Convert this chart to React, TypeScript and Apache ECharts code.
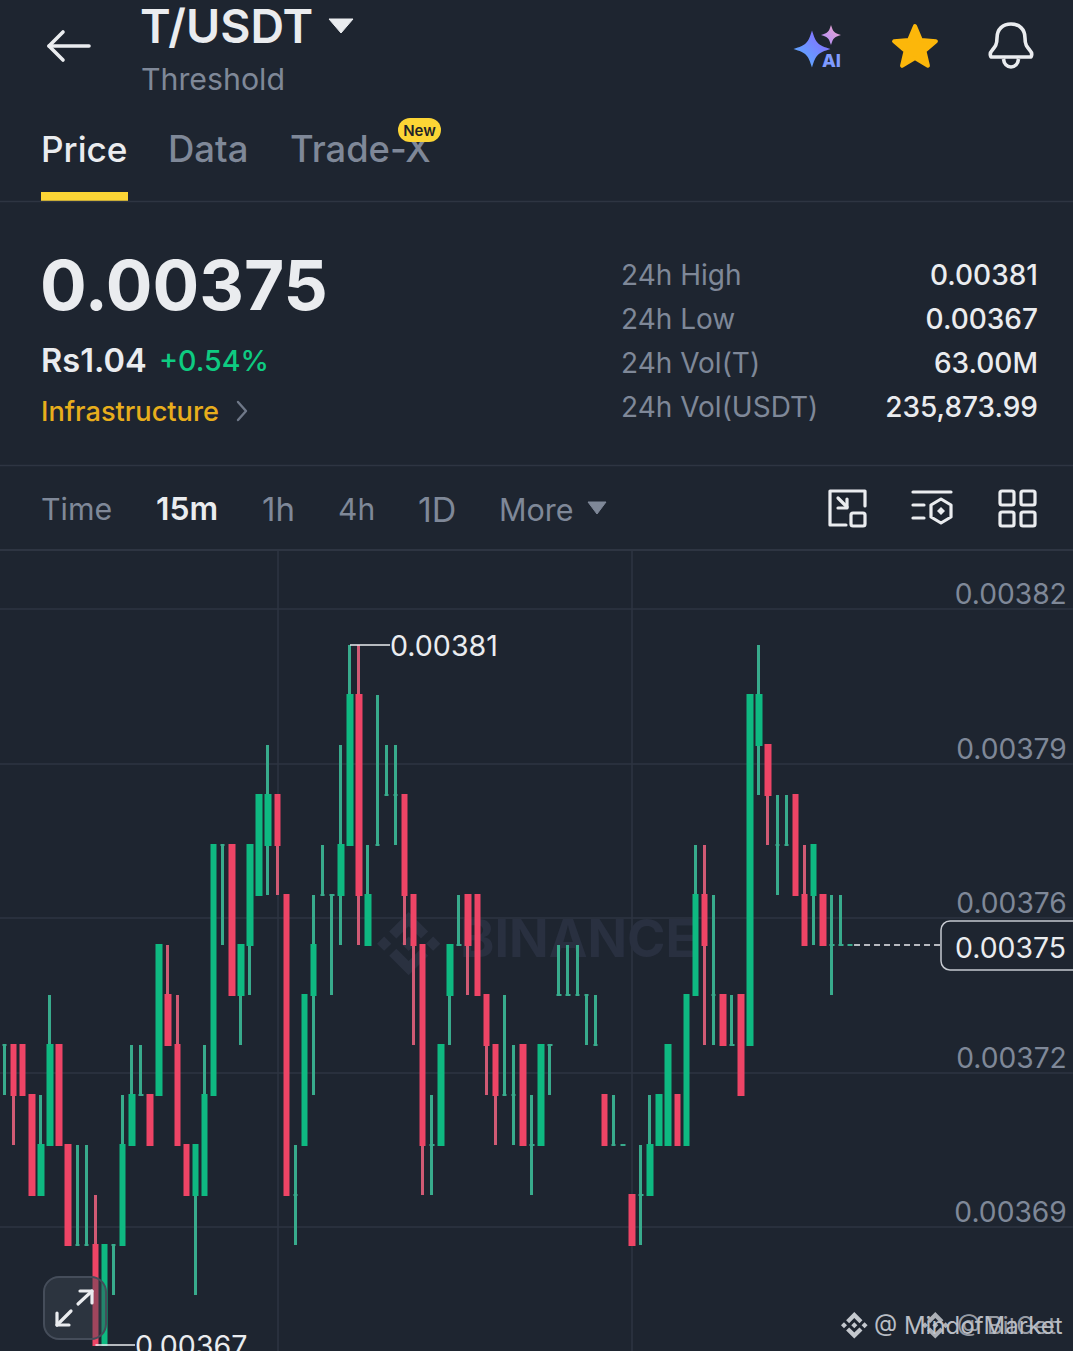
import React, { useEffect, useRef } from "react";
import * as echarts from "echarts";

// Prices are in units of 0.00001 USDT
const PRICE_UNIT = 0.00001;
const opens = [373,373,373,372,370,371,373,371,369,369, 369,367,369,369,371,372,372,372,374,373, 371,370,370,372,377,377,374,375,376,377, 378,376,370,371,374,376,376,376,377,380, 375,377,378,378,378,376,375,371,371,374, 375,376,376,374,373,372,372,373,371,371, 373,374,374,374,374,373,372,371,371,370, 370,370,371,371,372,371,374,376,374,374, 373,374,373,379,379,377,377,378,376,376, 376,375,375,375];
const closes = [373,372,372,370,371,373,371,369,369,369, 367,369,369,371,372,372,371,375,373,371, 370,371,372,377,377,374,375,377,378,378, 377,370,370,374,375,376,376,377,380,376, 376,377,378,378,376,375,371,371,373,375, 375,375,374,373,372,372,372,371,371,373, 373,374,374,374,374,373,371,371,371,369, 370,371,372,373,371,374,376,375,374,373, 373,372,380,380,378,377,377,376,375,377, 375,375,375,375];
const lows = [372,371,372,370,370,371,371,369,369,369, 367,367,368,369,371,372,371,372,373,371, 370,368,370,372,375,374,373,374,376,376, 376,370,369,371,372,376,374,375,377,375, 375,377,378,377,375,373,370,370,371,373, 375,374,374,372,371,372,371,371,370,371, 372,374,374,374,373,373,371,371,371,369, 369,370,371,371,371,371,374,373,373,373, 373,372,373,378,377,376,377,376,375,375, 375,374,375,375];
const highs = [373,373,373,372,372,374,373,371,371,371, 370,369,369,372,373,373,372,375,375,374, 371,371,373,377,377,377,375,377,378,379, 378,376,371,374,376,377,376,379,381,381, 377,380,379,379,378,376,375,372,373,375, 376,376,376,374,373,374,373,373,372,373, 373,375,375,375,374,374,372,372,371,370, 371,372,372,373,372,374,377,377,376,374, 374,374,380,381,379,378,378,378,377,377, 376,376,376,375];
const SLOT_COUNT = 118;
const slots = Array.from({ length: SLOT_COUNT }, (_, i) => String(i));
const gridPrices = [381.72, 378.62, 375.54, 372.44, 369.36];
const verticalGridSlots = [30, 69];
const highIndex = 38;
const lowIndex = 10;
const lastIndex = 93;

const statLabels = ["24h High", "24h Low", "24h Vol(T)", "24h Vol(USDT)"];
const statValues = ["0.00381", "0.00367", "63.00M", "235,873.99"];
const tabs = ["Price", "Data", "Trade-X"];
const intervals = ["Time", "15m", "1h", "4h", "1D", "More"];

const BG = "#1e2530";
const GRID = "#2e3542";
const GREEN = "#0fb981";
const RED = "#ee4566";
const GREEN_WICK = "#38ab8c";
const RED_WICK = "#d05a74";
const GRAY = "#7f8898";
const WHITE = "#eaecef";
const FONT = "Inter, 'Noto Sans', sans-serif";

echarts.graphic.registerShape(
  "binanceLogo",
  echarts.graphic.extendPath(
    "M38.73 53.2l24.59-24.58 24.6 24.6 14.3-14.31L63.32 0 24.43 38.89zM0 63.31L14.3 49l14.31 14.31-14.31 14.3zM38.73 73.41L63.32 98l24.6-24.6 14.31 14.29-38.91 38.92-38.89-38.9zM98 63.31L112.3 49l14.31 14.3L112.3 77.6zM77.83 63.3L63.32 48.78 52.59 59.51l-1.24 1.23-2.54 2.54 14.51 14.5 14.51-14.52z",
    {}
  )
);
echarts.graphic.registerShape(
  "sparkle",
  echarts.graphic.extendPath(
    "M0 -1C.22 -.3 .3 -.22 1 0C.3 .22 .22 .3 0 1C-.22 .3 -.3 .22 -1 0C-.3 -.22 -.22 -.3 0 -1Z",
    {}
  )
);
echarts.graphic.registerShape(
  "bell",
  echarts.graphic.extendPath(
    "M991 57C989.5 54 990 52.5 992 50.5C995 47 997 45 997 38C997 29 1003 24 1011 24C1019 24 1025 29 1025 38C1025 45 1027 47 1030 50.5C1032 52.5 1032.5 54 1031 57ZM1003.5 59C1004 64 1007 67 1011 67C1015 67 1018 64 1018.5 59",
    {}
  )
);

const text = (
  t: string,
  x: number,
  y: number,
  size: number,
  fill: string,
  weight: number | string = 400,
  align = "left",
  z = 50,
  opacity = 1
) => ({
  type: "text",
  z,
  x,
  y,
  silent: true,
  style: {
    text: t,
    fill,
    opacity,
    font: `${weight} ${size}px ${FONT}`,
    align,
    verticalAlign: "middle",
  },
});
const hline = (x1: number, x2: number, y: number, stroke: string, lineWidth = 1.5, z = 50) => ({
  type: "line",
  z,
  silent: true,
  shape: { x1, y1: y, x2, y2: y },
  style: { stroke, lineWidth },
});
const stroke = (points: number[][], color = WHITE, lineWidth = 3.2, z = 50) => ({
  type: "polyline",
  z,
  silent: true,
  shape: { points },
  style: { stroke: color, fill: "none", lineWidth, lineCap: "round", lineJoin: "round" },
});
const box = (x: number, y: number, width: number, height: number, r: number, style: any, z = 50) => ({
  type: "rect",
  z,
  silent: true,
  shape: { x, y, width, height, r },
  style,
});
const starPoints = (cx: number, cy: number, R: number, r: number) =>
  Array.from({ length: 10 }, (_, i) => {
    const a = -Math.PI / 2 + (i * Math.PI) / 5;
    const d = i % 2 === 0 ? R : r;
    return [cx + d * Math.cos(a), cy + d * Math.sin(a)];
  });

export default function App() {
  const ref = useRef<HTMLDivElement>(null);
  useEffect(() => {
    document.body.style.margin = "0";
    document.body.style.background = BG;
    const chart = echarts.init(ref.current!, undefined, { renderer: "svg" });
    const full = opens.map((o, i) => [o, closes[i], lows[i], highs[i]]);
    const bodies = opens.map((o, i) => [
      o,
      closes[i],
      Math.min(o, closes[i]),
      Math.max(o, closes[i]),
    ]);
    chart.setOption({
      animation: false,
      backgroundColor: BG,
      grid: { left: -2.2, top: 550, width: 9.11 * SLOT_COUNT, height: 801 },
      xAxis: {
        type: "category",
        data: slots,
        boundaryGap: true,
        axisLine: { show: false },
        axisTick: { show: false },
        axisLabel: { show: false },
        splitLine: {
          show: true,
          alignWithLabel: true,
          interval: (i: number) => verticalGridSlots.includes(i),
          lineStyle: { color: GRID, width: 1.5 },
        },
      },
      yAxis: {
        type: "value",
        position: "right",
        min: 366.88,
        max: 382.9,
        axisLine: { show: false },
        axisTick: { show: false, customValues: gridPrices },
        splitLine: { show: true, lineStyle: { color: GRID, width: 1.5 } },
        axisLabel: {
          inside: true,
          customValues: gridPrices,
          margin: 6,
          align: "right",
          verticalAlign: "bottom",
          padding: [0, 0, 1, 0],
          color: GRAY,
          fontSize: 28.2,
          fontFamily: FONT,
          formatter: (v: number) => (v * PRICE_UNIT).toFixed(5),
        },
      },
      series: [
        {
          type: "candlestick",
          name: "wicks",
          data: full,
          barWidth: 1,
          z: 2,
          itemStyle: {
            color: GREEN_WICK,
            color0: RED_WICK,
            borderColor: GREEN_WICK,
            borderColor0: RED_WICK,
            borderColorDoji: GREEN_WICK,
            borderWidth: 3,
          },
        },
        {
          type: "candlestick",
          name: "bodies",
          data: bodies,
          barWidth: 5,
          z: 3,
          itemStyle: {
            color: GREEN,
            color0: RED,
            borderColor: GREEN,
            borderColor0: RED,
            borderColorDoji: GREEN_WICK,
            borderWidth: 2,
          },
        },
      ],
    });

    const px = (i: number, p: number) =>
      chart.convertToPixel({ seriesIndex: 0 }, [i, p]) as number[];
    const hi = px(highIndex, highs[highIndex]);
    const lo = px(lowIndex, lows[lowIndex]);
    const last = px(lastIndex, closes[lastIndex]);

    const elements: any[] = [
      // watermark
      {
        type: "binanceLogo",
        z: 0,
        silent: true,
        x: 377,
        y: 912,
        scaleX: 0.5,
        scaleY: 0.5,
        style: { fill: "#2a3140" },
      },
      text("BINANCE", 460, 938, 52, "#293040", 700, "left", 0),

      // header
      stroke([[49, 46], [89, 46]], WHITE, 3.6),
      stroke([[63, 32], [49, 46], [63, 60]], WHITE, 3.6),
      text("T/USDT", 140, 26, 46.5, WHITE, 600),
      { type: "polygon", z: 50, silent: true, shape: { points: [[329, 19], [353, 19], [341, 33]] }, style: { fill: WHITE, stroke: WHITE, lineWidth: 1, lineJoin: "round" } },
      text("Threshold", 141, 79, 30.3, GRAY),
      // AI icon
      {
        type: "sparkle",
        z: 50,
        silent: true,
        x: 812,
        y: 49,
        scaleX: 18.5,
        scaleY: 18.5,
        style: { fill: new echarts.graphic.LinearGradient(0, 1, 1, 0, [{ offset: 0, color: "#52b8ff" }, { offset: 1, color: "#8f62ff" }]) },
      },
      {
        type: "sparkle",
        z: 50,
        silent: true,
        x: 831,
        y: 35,
        scaleX: 10,
        scaleY: 10,
        style: { fill: new echarts.graphic.LinearGradient(0, 1, 1, 0, [{ offset: 0, color: "#a98cff" }, { offset: 1, color: "#f2a6c8" }]) },
      },
      text("AI", 822, 60, 18, "#7f9bff", 800),
      // star
      {
        type: "polygon",
        z: 50,
        silent: true,
        shape: { points: starPoints(915, 48, 22, 10) },
        style: { fill: "#fcb70a", stroke: "#fcb70a", lineWidth: 4, lineJoin: "round" },
      },
      // bell
      { type: "bell", z: 50, silent: true, x: 0, y: 0, style: { stroke: WHITE, fill: "none", lineWidth: 3.6, lineJoin: "round" } },

      // tabs
      text(tabs[0], 41, 149, 35.2, WHITE, 500),
      text(tabs[1], 168, 149, 36.5, GRAY, 500),
      text(tabs[2], 290, 149, 36.3, GRAY, 500),
      box(398, 118, 43, 24, 12, { fill: "#fcd535" }),
      text("New", 419.5, 130.5, 15, "#1e2329", 600, "center"),
      box(41, 192, 87, 9, 0, { fill: "#fcd535" }),
      hline(0, 1073, 201.5, GRID),

      // price block
      text("0.00375", 40, 285, 69.3, WHITE, 700),
      text("Rs1.04", 41, 360, 32.6, WHITE, 600),
      text("+0.54%", 159, 360, 28.6, "#0ecb81", 500),
      text("Infrastructure", 41, 411, 27.2, "#e8ae1c", 500),
      stroke([[238, 402], [246, 411], [238, 420]], "#6f7888", 2.4),
      ...statLabels.flatMap((l, i) => [
        text(l, 621, 275 + i * 44, 28, GRAY),
        text(statValues[i], 1038, 275 + i * 44, 28, WHITE, 500, "right"),
      ]),
      hline(0, 1073, 465.5, GRID),

      // interval row
      text(intervals[0], 41, 509, 30.3, GRAY),
      text(intervals[1], 156, 508, 31.8, WHITE, 600),
      text(intervals[2], 262, 509, 33, GRAY),
      text(intervals[3], 338, 509, 30, GRAY),
      text(intervals[4], 418, 509, 34, GRAY),
      text(intervals[5], 499, 509, 30.5, GRAY),
      { type: "polygon", z: 50, silent: true, shape: { points: [[588, 502], [606, 502], [597, 514]] }, style: { fill: GRAY, stroke: GRAY, lineWidth: 1, lineJoin: "round" } },
      // toolbar icon 1
      stroke([[846, 525], [830, 525], [830, 491], [865, 491], [865, 506]], WHITE, 3.2),
      stroke([[838, 498], [847, 507]], WHITE, 3.2),
      stroke([[838, 508], [847, 508], [847, 499]], WHITE, 3.2),
      box(851, 513, 14, 13, 2, { stroke: WHITE, fill: "none", lineWidth: 3.2 }),
      // toolbar icon 2
      stroke([[913, 492], [951, 492]], WHITE, 3.2),
      stroke([[913, 505], [924, 505]], WHITE, 3.2),
      stroke([[913, 518], [924, 518]], WHITE, 3.2),
      {
        type: "polygon",
        z: 50,
        silent: true,
        shape: { points: [[941, 499], [951, 505], [951, 517], [941, 523], [931, 517], [931, 505]] },
        style: { stroke: WHITE, fill: "none", lineWidth: 3.2, lineJoin: "round" },
      },
      { type: "polygon", z: 50, silent: true, shape: { points: [[941, 507], [945, 511], [941, 515], [937, 511]] }, style: { fill: WHITE } },
      // toolbar icon 3
      box(1000, 491, 14, 14, 2, { stroke: WHITE, fill: "none", lineWidth: 3.2 }),
      box(1021, 491, 14, 14, 2, { stroke: WHITE, fill: "none", lineWidth: 3.2 }),
      box(1000, 512, 14, 14, 2, { stroke: WHITE, fill: "none", lineWidth: 3.2 }),
      box(1021, 512, 14, 14, 2, { stroke: WHITE, fill: "none", lineWidth: 3.2 }),
      hline(0, 1073, 550, GRID, 2),

      // high / low / last annotations
      hline(hi[0], 390, hi[1], WHITE, 1.5, 40),
      text((highs[highIndex] * PRICE_UNIT).toFixed(5), 390, hi[1], 28.6, WHITE, 400, "left", 40),
      hline(lo[0], 135, lo[1], WHITE, 1.5, 40),
      text((lows[lowIndex] * PRICE_UNIT).toFixed(5), 135, lo[1], 28.6, WHITE, 400, "left", 40),
      {
        type: "line",
        z: 40,
        silent: true,
        shape: { x1: last[0] + 4, y1: last[1], x2: 941, y2: last[1] },
        style: { stroke: WHITE, lineWidth: 1.5, lineDash: [6, 4] },
      },
      box(941, 921, 150, 49, 9, { fill: BG, stroke: "#c5c9d0", lineWidth: 1.5 }, 41),
      text((closes[lastIndex] * PRICE_UNIT).toFixed(5), 955, last[1] + 2, 28.4, WHITE, 400, "left", 42),

      // expand button
      box(44, 1277, 62, 62, 15, { fill: "rgba(62,70,82,0.45)", stroke: "#454d5a", lineWidth: 2 }),
      stroke([[78, 1304], [92, 1291]], WHITE, 3.2),
      stroke([[80, 1291], [92, 1291], [92, 1303]], WHITE, 3.2),
      stroke([[57, 1325], [71, 1311]], WHITE, 3.2),
      stroke([[57, 1313], [57, 1325], [69, 1325]], WHITE, 3.2),

      // user watermarks
      { type: "binanceLogo", z: 45, silent: true, x: 841, y: 1312, scaleX: 0.21, scaleY: 0.21, style: { fill: "#c4c8ce" } },
      text("@ MindofMarket", 874, 1325, 24, "#b9bdc4", 400, "left", 45),
      { type: "binanceLogo", z: 45, silent: true, x: 922, y: 1312, scaleX: 0.21, scaleY: 0.21, style: { fill: "#c4c8ce", opacity: 0.85 } },
      text("@ BitGet", 957, 1325, 24, "#b9bdc4", 400, "left", 45, 0.8),
    ];
    chart.setOption({ graphic: { elements } });
    return () => chart.dispose();
  }, []);
  return (
    <div
      ref={ref}
      style={{ position: "absolute", left: 0, top: 0, width: 1073, height: 1351, overflow: "hidden" }}
    />
  );
}
